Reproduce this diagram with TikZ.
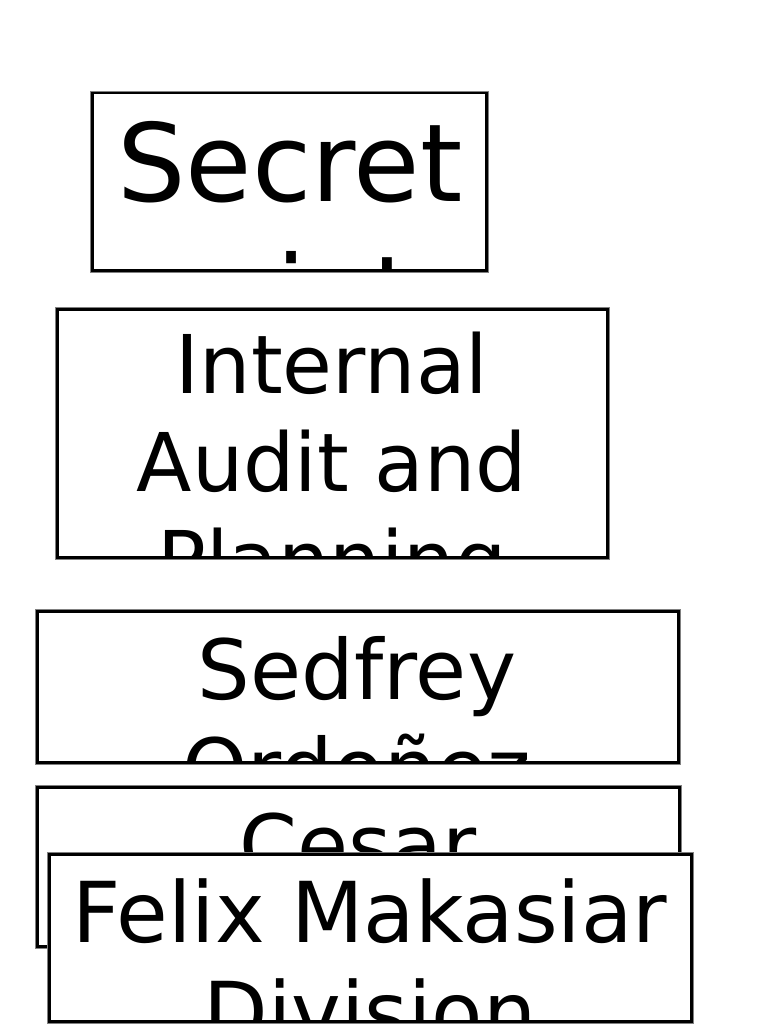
\documentclass[tikz,border=0pt]{standalone}
\usepackage{fontspec}
\setmainfont{DejaVu Sans}

\tikzset{
  unit box/.style={draw=black, line width=3pt, fill=white},
  unit edge/.style={draw=gray, line width=0.8pt},
  unit text/.style={anchor=north, inner sep=0pt, align=center},
}

\begin{document}
\begin{tikzpicture}[x=1pt,y=-1pt]
\useasboundingbox (0,0) rectangle (768,1024);

% Secretariat
\draw[unit box] (92,93) rectangle (486,270);
\begin{scope}
\clip (92,93) rectangle (486,270);
\node[unit text, font=\fontsize{108}{132}\selectfont] (secretariat) at (290,121) {Secret\\ariat};
\end{scope}
\draw[unit edge] (90,91) rectangle (488,272);

% Internal Audit
\draw[unit box] (57,309) rectangle (607,557);
\begin{scope}
\clip (57,309) rectangle (607,557);
\node[unit text, font=\fontsize{81}{98}\selectfont] (audit) at (332,332) {Internal\\Audit and\\Planning};
\end{scope}
\draw[unit edge] (55,307) rectangle (609,559);

% Sedfrey Ordonez
\draw[unit box] (37,611) rectangle (678,762);
\begin{scope}
\clip (37,611) rectangle (678,762);
\node[unit text, font=\fontsize{83}{99}\selectfont] (ordonez) at (357,636) {Sedfrey\\Ordoñez};
\end{scope}
\draw[unit edge] (35,609) rectangle (680,764);

% Cesar
\draw[unit box] (37,787) rectangle (679,946);
\begin{scope}
\clip (37,787) rectangle (679,946);
\node[unit text, font=\fontsize{83}{99}\selectfont] (cesar) at (358,813) {Cesar};
\end{scope}
\draw[unit edge] (35,785) rectangle (681,948);

% Felix Makasiar
\draw[unit box] (49,854) rectangle (691,1021);
\begin{scope}
\clip (49,854) rectangle (691,1021);
\node[unit text, font=\fontsize{84}{100}\selectfont] (makasiar) at (370,878) {Felix Makasiar\\Division};
\end{scope}
\draw[unit edge] (47,852) rectangle (693,1023);
\end{tikzpicture}
\end{document}
